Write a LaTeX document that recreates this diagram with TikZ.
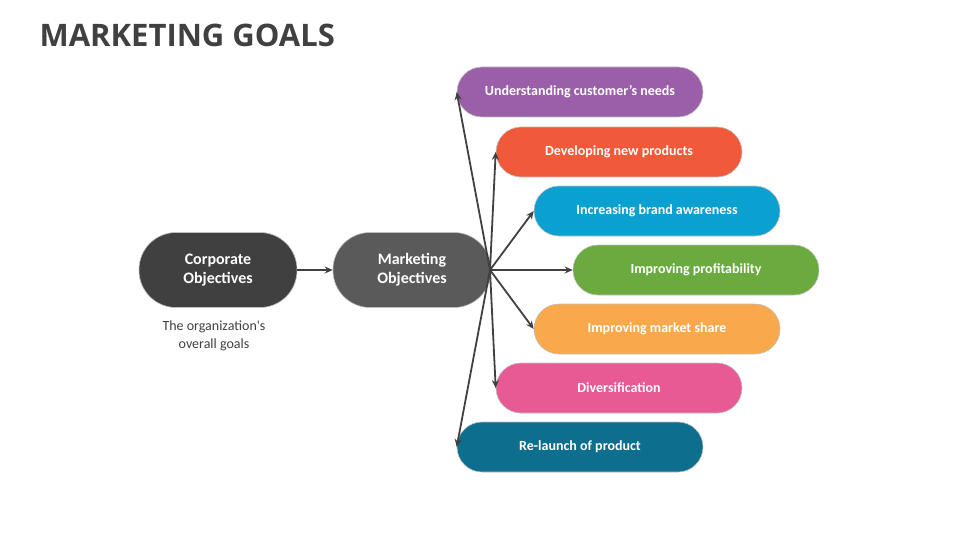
\documentclass[tikz,border=0pt]{standalone}
\usepackage{fontspec}
\setmainfont{Carlito}
\newfontfamily\titlefont{Open Sans}
\usetikzlibrary{arrows.meta}
\definecolor{dgray}{HTML}{404040}
\definecolor{mgray}{HTML}{5A5A5A}
\definecolor{mpurple}{HTML}{9B5FAA}
\definecolor{mred}{HTML}{F05A3A}
\definecolor{mblue}{HTML}{0AA0CF}
\definecolor{mgreen}{HTML}{6AAA3F}
\definecolor{morange}{HTML}{F9A94B}
\definecolor{mpink}{HTML}{E85A93}
\definecolor{mteal}{HTML}{0E6E8E}
\tikzset{pill/.style = {rounded corners=25pt, minimum width=246pt, minimum height=50pt,
                        draw=black!25, line width=0.6pt, text=white,
                        font=\fontsize{14}{16}\selectfont\bfseries, inner sep=0pt},
         big/.style = {pill, rounded corners=37pt, minimum width=158pt, minimum height=75pt,
                       align=center, font=\fontsize{16}{19}\selectfont\bfseries},
         arr/.style = {-{Stealth[length=8pt,width=7pt]}, draw=dgray, line width=1.8pt}}

\begin{document}
\begin{tikzpicture}[x=1pt, y=-1pt]
    \useasboundingbox (0, 0) rectangle (960, 540);

    \node [anchor=west, text=dgray] at (36, 35) {\titlefont\bfseries\fontsize{31}{34}\selectfont MARKETING GOALS};

    \node (corp) [big, fill=dgray] at (218, 270) {Corporate\\Objectives};
    \node (mark) [big, fill=mgray] at (412, 270) {Marketing\\Objectives};
    \node (note) [align=center, text=dgray, font=\fontsize{14}{18}\selectfont] at (214, 336) {The organization\textquotesingle s\\overall goals};

    \node (g1) [pill, fill=mpurple] at (580, 92) {Understanding customer’s needs};
    \node (g2) [pill, fill=mred] at (619, 152) {Developing new products};
    \node (g3) [pill, fill=mblue] at (657, 211) {Increasing brand awareness};
    \node (g4) [pill, fill=mgreen] at (696, 270) {Improving profitability};
    \node (g5) [pill, fill=morange] at (657, 329) {Improving market share};
    \node (g6) [pill, fill=mpink] at (619, 388) {Diversification};
    \node (g7) [pill, fill=mteal] at (580, 447) {Re-launch of product};

    \draw [arr] (corp) -- (mark);
    \coordinate (hub) at (490, 270);
    \draw [arr] (hub) -- (g1.west);
    \draw [arr] (hub) -- (g2.west);
    \draw [arr] (hub) -- (g3.west);
    \draw [arr] (hub) -- (g4.west);
    \draw [arr] (hub) -- (g5.west);
    \draw [arr] (hub) -- (g6.west);
    \draw [arr] (hub) -- (g7.west);
\end{tikzpicture}
\end{document}
